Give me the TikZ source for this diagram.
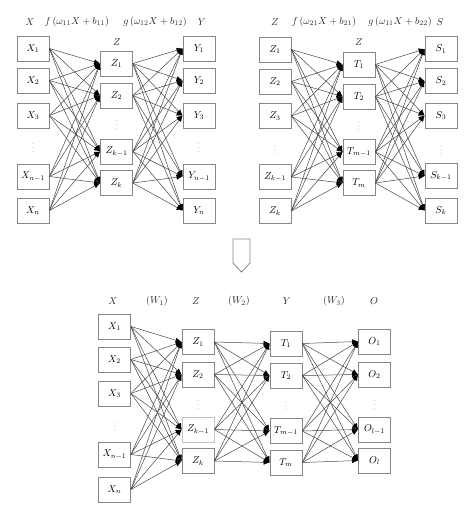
\documentclass[tikz,border=0pt]{standalone}
\usetikzlibrary{arrows.meta}
\definecolor{boxgray}{RGB}{135,135,135}
\definecolor{linegray}{RGB}{70,70,70}
\tikzset{
  unit/.style={draw=boxgray, line width=0.8pt, minimum width=32pt, minimum height=25pt, inner sep=0pt},
  link/.style={draw=linegray, line width=0.5pt, -{Latex[length=6pt,width=5pt,color=black]}},
  hdr/.style={inner sep=0pt, text=black!85},
  vdot/.style={inner sep=0pt, text=boxgray, font=\footnotesize}
}
\begin{document}
\begin{tikzpicture}[x=1pt,y=-1pt]
\useasboundingbox (0,0) rectangle (474,519);
% top left
\node[hdr] (ahx) at (30,22){$X$};
\node[hdr] (ahf) at (77,22){$f\,(\omega_{11}X+b_{11})$};
\node[hdr] (ahg) at (155,22){$g\,(\omega_{12}X+b_{12})$};
\node[hdr] (ahy) at (202,22){$Y$};
\node[hdr] (ahz) at (117,42){$Z$};
\node[unit] (ax1) at (33,48.5){$X_1$};
\node[unit] (ax2) at (33,80.5){$X_2$};
\node[unit] (ax3) at (33,115.5){$X_3$};
\node[vdot] (axd) at (33,145){$\vdots$};
\node[unit] (ax4) at (33,176.5){$X_{n-1}$};
\node[unit] (ax5) at (33,210.5){$X_n$};
\node[unit] (az1) at (116.5,63.5){$Z_1$};
\node[unit] (az2) at (116.5,95.5){$Z_2$};
\node[vdot] (azd) at (116.5,122){$\vdots$};
\node[unit] (az3) at (116.5,151.5){$Z_{k-1}$};
\node[unit] (az4) at (116.5,183){$Z_k$};
\node[unit] (ay1) at (199,48.5){$Y_1$};
\node[unit] (ay2) at (199,80.5){$Y_2$};
\node[unit] (ay3) at (199,115.5){$Y_3$};
\node[vdot] (ayd) at (199,145){$\vdots$};
\node[unit] (ay4) at (199,176.5){$Y_{n-1}$};
\node[unit] (ay5) at (199,210.5){$Y_n$};
\foreach \a in {ax1,ax2,ax3,ax4,ax5}
  \foreach \b in {az1,az2,az3,az4}
    \draw[link] (\a.east) -- (\b.west);
\foreach \a in {az1,az2,az3,az4}
  \foreach \b in {ay1,ay2,ay3,ay4,ay5}
    \draw[link] (\a.east) -- (\b.west);
% top right
\node[hdr] (bhz) at (275,22){$Z$};
\node[hdr] (bhf) at (324,22){$f\,(\omega_{21}X+b_{21})$};
\node[hdr] (bhg) at (400,22){$g\,(\omega_{11}X+b_{22})$};
\node[hdr] (bhs) at (440,22){$S$};
\node[hdr] (bht) at (359,42){$Z$};
\node[unit] (bz1) at (275,49.5){$Z_1$};
\node[unit] (bz2) at (275,81.5){$Z_2$};
\node[unit] (bz3) at (275,116){$Z_3$};
\node[vdot] (bzd) at (275,147){$\vdots$};
\node[unit] (bz4) at (275,177){$Z_{k-1}$};
\node[unit] (bz5) at (275,211){$Z_k$};
\node[unit] (bt1) at (359,64.5){$T_1$};
\node[unit] (bt2) at (359,96.5){$T_2$};
\node[vdot] (btd) at (359,123){$\vdots$};
\node[unit] (bt3) at (359,152){$T_{m-1}$};
\node[unit] (bt4) at (359,183){$T_m$};
\node[unit] (bs1) at (441,49){$S_1$};
\node[unit] (bs2) at (441,81){$S_2$};
\node[unit] (bs3) at (441,115.5){$S_3$};
\node[vdot] (bsd) at (441,147){$\vdots$};
\node[unit] (bs4) at (441,176){$S_{k-1}$};
\node[unit] (bs5) at (441,210.5){$S_k$};
\foreach \a in {bz1,bz2,bz3,bz4,bz5}
  \foreach \b in {bt1,bt2,bt3,bt4}
    \draw[link] (\a.east) -- (\b.west);
\foreach \a in {bt1,bt2,bt3,bt4}
  \foreach \b in {bs1,bs2,bs3,bs4,bs5}
    \draw[link] (\a.east) -- (\b.west);
% arrow between
\draw[draw=boxgray, line width=0.8pt] (233,239) -- (250,239) -- (250,263) -- (241.5,272) -- (233,263) -- cycle;
% bottom
\node[hdr] (chx) at (113,301){$X$};
\node[hdr] (chw1) at (157,301){$(W_1)$};
\node[hdr] (chz) at (196,301){$Z$};
\node[hdr] (chw2) at (239,301){$(W_2)$};
\node[hdr] (chy) at (287,301){$Y$};
\node[hdr] (chw3) at (334,301){$(W_3)$};
\node[hdr] (cho) at (374,301){$O$};
\node[unit] (cx1) at (114.5,326.5){$X_1$};
\node[unit] (cx2) at (114.5,359.5){$X_2$};
\node[unit] (cx3) at (114.5,393.5){$X_3$};
\node[vdot] (cxd) at (114.5,424){$\vdots$};
\node[unit] (cx4) at (114.5,454.5){$X_{n-1}$};
\node[unit] (cx5) at (114.5,489.5){$X_n$};
\node[unit] (cz1) at (198,342){$Z_1$};
\node[unit] (cz2) at (198,374.5){$Z_2$};
\node[vdot] (czd) at (198,402){$\vdots$};
\node[unit, draw=boxgray!50] (cz3) at (198,429.5){$Z_{k-1}$};
\node[unit] (cz4) at (198,461){$Z_k$};
\node[unit] (ct1) at (286,343.5){$T_1$};
\node[unit] (ct2) at (286,375.5){$T_2$};
\node[vdot] (ctd) at (286,403){$\vdots$};
\node[unit] (ct3) at (286,431){$T_{m-1}$};
\node[unit] (ct4) at (286,462.5){$T_m$};
\node[unit] (co1) at (374.5,341.5){$O_1$};
\node[unit] (co2) at (374.5,374.5){$O_2$};
\node[vdot] (cod) at (374.5,402){$\vdots$};
\node[unit] (co3) at (374.5,429.5){$O_{l-1}$};
\node[unit] (co4) at (374.5,460.5){$O_l$};
\foreach \a in {cx1,cx2,cx3,cx4,cx5}
  \foreach \b in {cz1,cz2,cz3,cz4}
    \draw[link] (\a.east) -- (\b.west);
\foreach \a in {cz1,cz2,cz3,cz4}
  \foreach \b in {ct1,ct2,ct3,ct4}
    \draw[link] (\a.east) -- (\b.west);
\foreach \a in {ct1,ct2,ct3,ct4}
  \foreach \b in {co1,co2,co3,co4}
    \draw[link] (\a.east) -- (\b.west);
\end{tikzpicture}
\end{document}
